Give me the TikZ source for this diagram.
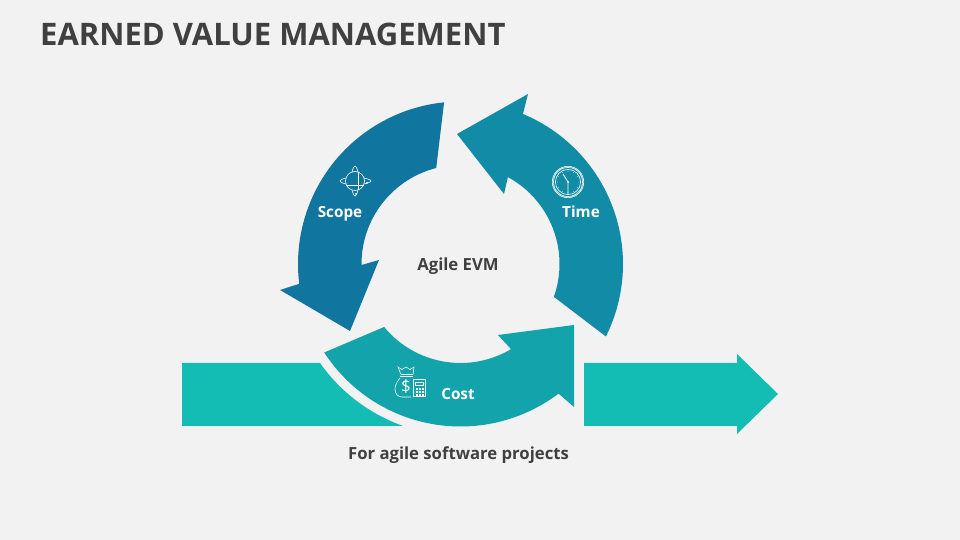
\documentclass[tikz,border=0pt]{standalone}
\usepackage{fontspec}
\usetikzlibrary{calc}
\setmainfont{Open Sans}
\definecolor{bgc}{HTML}{F2F2F2}
\definecolor{scopec}{HTML}{10769F}
\definecolor{timec}{HTML}{128CA6}
\definecolor{costc}{HTML}{13A3AB}
\definecolor{barc}{HTML}{14BDB3}
\definecolor{txtc}{HTML}{404040}
\tikzset{
  lab/.style={font=\fontsize{15.3}{18}\selectfont\bfseries,text=white,inner sep=0pt,anchor=base},
  dark/.style={text=txtc,inner sep=0pt,anchor=base,font=\fontsize{16.7}{20}\selectfont\bfseries},
  ico/.style={draw=white,line width=0.6pt,fill=none},
}
\begin{document}
\begin{tikzpicture}[x=1pt,y=1pt]
\useasboundingbox (0,0) rectangle (960,540);
\fill[bgc] (0,0) rectangle (960,540);
\coordinate (c) at (460.5,276);
% bars
\fill[barc] (182,177) -- (320,177) arc[start angle=215.2,end angle=250.35,radius=172] -- (182,114) -- cycle;
\fill[barc] (584,177) -- (737,177) -- (737,186) -- (778,146) -- (737,106) -- (737,114) -- (584,114) -- cycle;
% arrows
\fill[scopec] ($(c)+(95.8:162.5)$) arc[start angle=95.8,end angle=187,radius=162.5] -- (280,250) -- (350,209) -- (379,280) -- ($(c)+(180.6:99)$) arc[start angle=180.6,end angle=104.2,radius=99] -- cycle;
\fill[timec] ($(c)+(-26.5:162.5)$) arc[start angle=-26.5,end angle=67.4,radius=162.5] -- (528,446) -- (457,406) -- (504,346) -- ($(c)+(61.4:99)$) arc[start angle=61.4,end angle=-19.4,radius=99] -- cycle;
\fill[costc] ($(c)+(213:162.5)$) arc[start angle=213,end angle=307.1,radius=162.5] -- (574,133) -- (574,215) -- (498,205) -- ($(c)+(300.7:99)$) arc[start angle=300.7,end angle=219.5,radius=99] -- cycle;
% texts
\node[anchor=west,inner sep=0pt,text=txtc,font=\fontsize{31}{36}\selectfont\bfseries] (title) at (40,506) {EARNED VALUE MANAGEMENT};
\node[dark] (agile) at (458,269) {Agile EVM};
\node[dark] (sub) at (458.5,80) {For agile software projects};
\node[lab] (scope) at (340,322.5) {Scope};
\node[lab] (time) at (581,322.5) {Time};
\node[lab] (cost) at (458,140.5) {Cost};
% scope icon
\begin{scope}[shift={(355,359)}]
\draw[ico] (0,0) circle (9.5);
\draw[ico] (3,9.3) -- (3,-9.3) (-9.3,-4) -- (9.3,-4);
\draw[ico] (-3,9) .. controls (-2,13) and (-1,15) .. (0,15) .. controls (1,15) and (2,13) .. (3,9);
\draw[ico] (-3,-9) .. controls (-2,-13) and (-1,-15) .. (0,-15) .. controls (1,-15) and (2,-13) .. (3,-9);
\draw[ico] (-9,3) .. controls (-13,2) and (-15,1) .. (-15,0) .. controls (-15,-1) and (-13,-2) .. (-9,-3);
\draw[ico] (9,3) .. controls (13,2) and (16,1) .. (16,0) .. controls (16,-1) and (13,-2) .. (9,-3);
\fill[white] (12,-2) circle (1) (1,-13) circle (1);
\end{scope}
% clock icon
\begin{scope}[shift={(568,358)}]
\draw[ico] (0,0) circle (15.7) (0,0) circle (14.5) (0,0) circle (12.6);
\draw[ico,line width=0.8pt] (-5,8) -- (0,0) -- (0,-12);
\fill[white] (0,0) circle (1);
\foreach \a in {0,30,...,330}{\fill[white] (\a:10.8) circle (0.4);}
\end{scope}
% cost icon
\begin{scope}[shift={(0,540)},yscale=-1]
\draw[ico] (398,367) -- (401,374.5) -- (413,374.5) -- (414,367) -- (410,369.5) -- (406,367) -- (402,369.5) -- cycle;
\draw[ico] (399.5,376.5) -- (413,376.5);
\draw[ico] (400,378) .. controls (397,382) and (395,385) .. (395,389) .. controls (395,394) and (398,397) .. (402,397) -- (411,397);
\draw[ico] (413,379.5) rectangle (425.7,396.7);
\draw[ico] (415,382) rectangle (423.5,385.5);
\foreach \x in {415.5,418.5,421.5}{\foreach \y in {388,391,394}{\fill[white] (\x,\y) rectangle +(2,1.6);}}
\end{scope}
\node[font=\fontsize{17}{17}\selectfont,text=white,inner sep=0pt] (dollar) at (406,153) {\$};
\end{tikzpicture}
\end{document}
